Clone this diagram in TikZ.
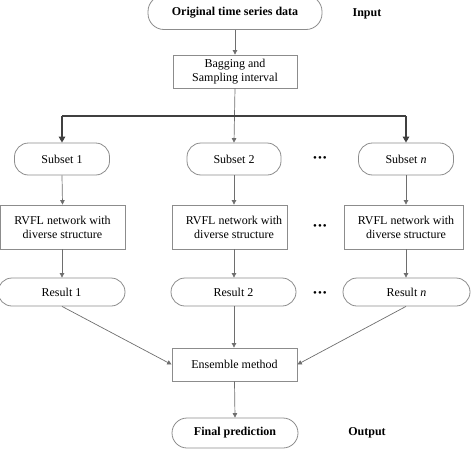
\documentclass[tikz,border=0pt]{standalone}
\usepackage{fontspec}
\setmainfont{Liberation Serif}
\usetikzlibrary{arrows.meta}
\definecolor{linegray}{HTML}{6E6E6E}
\definecolor{boxgray}{HTML}{8C8C8C}
\definecolor{busgray}{HTML}{404040}
\tikzset{
  base/.style={draw=boxgray, line width=0.8pt, align=center, inner sep=0pt, font=\fontsize{12}{14}\selectfont},
  boxnode/.style={base, rectangle},
  roundnode/.style={base, rectangle, rounded corners=14pt},
  lbl/.style={font=\fontsize{12}{14}\selectfont\bfseries},
  dotsnode/.style={font=\fontsize{11}{13}\selectfont, inner sep=0pt},
  conn/.style={draw=linegray, line width=0.7pt, -{Triangle[width=4.5pt,length=4.5pt]}},
  busline/.style={draw=busgray, line width=1.3pt},
  busarrow/.style={draw=busgray, line width=1.3pt, -{Triangle[width=6.5pt,length=6pt]}}
}
\begin{document}
\begin{tikzpicture}[x=1pt,y=-1pt]
\useasboundingbox (0,0) rectangle (474,450);
\clip (0,0) rectangle (474,450);
% top
\node[roundnode, minimum width=174pt, minimum height=34pt, rounded corners=16pt, font=\fontsize{12}{14}\selectfont\bfseries] (top) at (235,12.5) {Original time series data};
\node[lbl] (input) at (367,14) {Input};
\node[boxnode, minimum width=124pt, minimum height=33pt] (bag) at (235,71.5) {Bagging and\\Sampling interval};
% bus
\coordinate (busL) at (62,116);
\coordinate (busM) at (234,116);
\coordinate (busR) at (406,116);
% subsets
\node[roundnode, minimum width=95pt, minimum height=32pt] (s1) at (62,159) {Subset 1};
\node[roundnode, minimum width=94pt, minimum height=32pt] (s2) at (234,159) {Subset 2};
\node[roundnode, minimum width=95pt, minimum height=32pt] (sn) at (406,159) {Subset \textit{n}};
\node[dotsnode] (d1) at (320,159) {•\kern1pt•\kern1pt•};
% rvfl
\node[boxnode, minimum width=125pt, minimum height=44pt] (r1) at (62.5,227) {RVFL network with\\diverse structure};
\node[boxnode, minimum width=115pt, minimum height=44pt] (r2) at (229.5,227) {\hspace*{9pt}RVFL network with\\\hspace*{9pt}diverse structure};
\node[boxnode, minimum width=119pt, minimum height=44pt] (rn) at (403.5,227) {\hspace*{5pt}RVFL network with\\\hspace*{5pt}diverse structure};
\node[dotsnode] (d2) at (320,227) {•\kern1pt•\kern1pt•};
% results
\node[roundnode, minimum width=127pt, minimum height=28pt] (o1) at (61.5,292) {Result 1};
\node[roundnode, minimum width=125pt, minimum height=28pt] (o2) at (233.5,292) {Result 2};
\node[roundnode, minimum width=127pt, minimum height=28pt] (on) at (406.5,292) {Result \textit{n}};
\node[dotsnode] (d3) at (320,294) {•\kern1pt•\kern1pt•};
% ensemble
\node[boxnode, minimum width=125pt, minimum height=33pt] (ens) at (234.5,364.5) {Ensemble method};
\node[roundnode, minimum width=126pt, minimum height=30pt, rounded corners=15pt, font=\fontsize{12}{14}\selectfont\bfseries] (fin) at (235,433) {Final prediction};
\node[lbl] (output) at (367,433) {Output};
% connectors
\draw[conn] (top.south) -- (bag.north);
\draw[conn] (bag.south) -- (s2.north);
\draw[busline] (busL) -- (busR);
\draw[busarrow] (busL) -- (s1.north);
\draw[busarrow] (busR) -- (sn.north);
\draw[conn] (s1.south) -- (r1.south |- r1.north);
\draw[conn] (s2.south) -- (s2.south |- r2.north);
\draw[conn] (sn.south) -- (sn.south |- rn.north);
\draw[conn] (s1.south |- r1.south) -- (s1.south |- o1.north);
\draw[conn] (s2.south |- r2.south) -- (s2.south |- o2.north);
\draw[conn] (sn.south |- rn.south) -- (sn.south |- on.north);
\draw[conn] (s1.south |- o1.south) -- (ens.west);
\draw[conn] (s2.south |- o2.south) -- (s2.south |- ens.north);
\draw[conn] (sn.south |- on.south) -- (ens.east);
\draw[conn] (ens.south) -- (fin.north);
\end{tikzpicture}
\end{document}
